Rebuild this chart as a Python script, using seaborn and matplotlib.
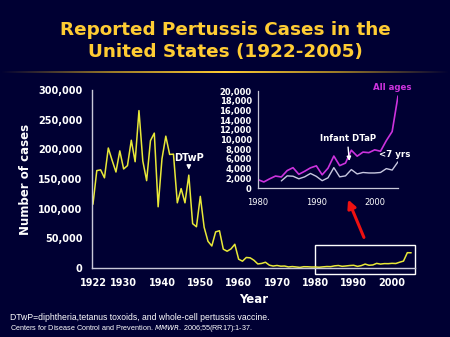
import numpy as np
import pandas as pd
import matplotlib
matplotlib.use("Agg")
import matplotlib.pyplot as plt
import seaborn as sns
from matplotlib.colors import LinearSegmentedColormap
from matplotlib.patches import Rectangle

# ---------------- data ----------------
years = list(range(1922, 2006))
cases = [107473, 164191, 165418, 152003, 202210, 181411, 161799, 197371, 166914, 172559,
         215343, 179135, 265269, 180518, 147237, 214652, 227319, 103188, 183866, 222202,
         191383, 191890, 109873, 133792, 109860, 156517, 74715, 69479, 120718, 68687,
         45030, 37129, 60886, 62786, 31732, 28295, 32148, 40005, 14809, 11468,
         17749, 17135, 13005, 6799, 7717, 9718, 4810, 3285, 4249, 3036,
         3287, 1759, 2402, 1738, 1010, 2177, 2063, 1623, 1730, 1248,
         1895, 2463, 2276, 3589, 4195, 2823, 3450, 4157, 4570, 2719,
         4083, 6586, 4617, 5137, 7796, 6564, 7405, 7288, 7867, 7580,
         9771, 11647, 25827, 25616]

inset_years = list(range(1980, 2005))
all_ages = [1730, 1248, 1895, 2463, 2276, 3589, 4195, 2823, 3450, 4157, 4570, 2719,
            4083, 6586, 4617, 5137, 7796, 6564, 7405, 7288, 7867, 7580, 9771, 11647, 18957]
under7_years = list(range(1984, 2005))
under7 = [1460, 2500, 2430, 1900, 2300, 3000, 2400, 1500, 2100, 4200, 2300, 2500,
          3800, 2900, 3200, 3100, 3100, 3200, 4000, 3700, 5400]

main_xticks = [1922, 1930, 1940, 1950, 1960, 1970, 1980, 1990, 2000]
main_yticks = [0, 50000, 100000, 150000, 200000, 250000, 300000]
inset_yticks = list(range(0, 20001, 2000))
inset_xticks = [1980, 1990, 2000]

title = "Reported Pertussis Cases in the\nUnited States (1922-2005)"
footnote1 = "DTwP=diphtheria,tetanus toxoids, and whole-cell pertussis vaccine."
footnote2 = "Centers for Disease Control and Prevention. $\\it{MMWR}$. 2006;55(RR17):1-37."

# ---------------- style ----------------
BG = "#000033"
GOLD = "#FFCC33"
YEL = "#E8E838"
PURP = "#CC33DD"
LGRAY = "#C8C8E0"
SPINE = "#C8C8D8"

sns.set_style("dark")
plt.rcParams["font.family"] = ["DejaVu Sans"]

W, H = 450, 337
fig = plt.figure(figsize=(4.5, 3.37), dpi=100, facecolor=BG)

def fx(px):
    return px / W

def fy(py):
    return (H - py) / H

# title
fig.text(fx(225), fy(41), title, ha="center", va="center", color=GOLD,
         fontsize=13.2, fontweight="bold", linespacing=1.25)

# gradient rule under title
gax = fig.add_axes([0, fy(73.5), 1, 2.2 / H])
cmap = LinearSegmentedColormap.from_list("g", [BG, "#9a7a28", GOLD, "#9a7a28", BG])
gax.imshow(np.linspace(0, 1, 256)[None, :], aspect="auto", cmap=cmap)
gax.axis("off")

# ---------------- main axes ----------------
ax = fig.add_axes([fx(92), fy(268), fx(415) - fx(92), fy(90) - fy(268)])
ax.set_facecolor(BG)
df = pd.DataFrame({"Year": years, "Cases": cases})
sns.lineplot(data=df, x="Year", y="Cases", ax=ax, color=YEL, linewidth=1.1)
ax.set_xlim(1921.75, 2006)
ax.set_ylim(0, 300000)
ax.grid(False)
for s in ["top", "right"]:
    ax.spines[s].set_visible(False)
for s in ["left", "bottom"]:
    ax.spines[s].set_color(SPINE)
    ax.spines[s].set_linewidth(1.0)
ax.set_xticks(main_xticks)
ax.set_xticklabels([str(v) for v in main_xticks])
ax.set_yticks(main_yticks)
ax.set_yticklabels([f"{v:,}" for v in main_yticks])
ax.tick_params(axis="both", colors=SPINE, labelcolor="white", labelsize=7,
               length=4, width=1, direction="out", pad=3)
for lab in ax.get_xticklabels() + ax.get_yticklabels():
    lab.set_fontweight("bold")
ax.set_xlabel("Year", color="white", fontsize=8.5, fontweight="bold", labelpad=4)
ax.set_ylabel("Number of cases", color="white", fontsize=8.5, fontweight="bold", labelpad=4)

# DTwP annotation
ax.text(1947, 186000, "DTwP", ha="center", va="center", color="white",
        fontsize=7, fontweight="bold")
ax.annotate("", xy=(1947, 161000), xytext=(1947, 177000),
            arrowprops=dict(arrowstyle="-|>", color="white", lw=1, mutation_scale=6))

# white box around 1980-2005
rect = Rectangle((1980, -10000), 26, 48500, fill=False, edgecolor="white",
                 linewidth=1, clip_on=False)
ax.add_patch(rect)

# ---------------- inset ----------------
iax = fig.add_axes([fx(258), fy(188), fx(398) - fx(258), fy(91) - fy(188)])
iax.set_facecolor(BG)
dfa = pd.DataFrame({"Year": inset_years, "Cases": all_ages})
dfu = pd.DataFrame({"Year": under7_years, "Cases": under7})
sns.lineplot(data=dfa, x="Year", y="Cases", ax=iax, color=PURP, linewidth=1.2)
sns.lineplot(data=dfu, x="Year", y="Cases", ax=iax, color=LGRAY, linewidth=1.0)
iax.set_xlim(1980, 2004)
iax.set_ylim(0, 20000)
iax.grid(False)
for s in ["top", "right"]:
    iax.spines[s].set_visible(False)
for s in ["left", "bottom"]:
    iax.spines[s].set_color(SPINE)
    iax.spines[s].set_linewidth(0.9)
iax.set_yticks(inset_yticks)
iax.set_yticklabels([f"{v:,}" for v in inset_yticks])
iax.set_xticks(inset_xticks)
iax.set_xticklabels([str(v) for v in inset_xticks])
iax.set_xticks(inset_years, minor=True)
iax.tick_params(axis="both", which="major", colors=SPINE, labelcolor="white",
                labelsize=6, length=3, width=0.8, direction="out", pad=1.5)
iax.tick_params(axis="x", which="major", pad=4)
iax.tick_params(axis="x", which="minor", colors=SPINE, length=3, width=0.8, direction="out")
for lab in iax.get_yticklabels():
    lab.set_fontweight("bold")
iax.set_xlabel("")
iax.set_ylabel("")

iax.text(2003.0, 20700, "All ages", ha="center", va="center", color=PURP,
         fontsize=6.2, fontweight="bold", clip_on=False)
iax.text(2003.4, 7000, "<7 yrs", ha="center", va="center", color="white",
         fontsize=6.2, fontweight="bold", clip_on=False)
iax.text(1995.4, 10300, "Infant DTaP", ha="center", va="center", color="white",
         fontsize=6.2, fontweight="bold")
iax.annotate("", xy=(1995.7, 5000), xytext=(1995.4, 9000),
             arrowprops=dict(arrowstyle="-|>", color="white", lw=1, mutation_scale=6))

# red arrow from box to inset
fig.add_artist(matplotlib.patches.FancyArrowPatch(
    (fx(365), fy(240)), (fx(347), fy(197)), transform=fig.transFigure,
    arrowstyle="-|>", color="#EE1111", lw=2.2, mutation_scale=12))

# footnotes
fig.text(fx(10), fy(318), footnote1, ha="left", va="center", color="white",
         fontsize=6.2, family="Liberation Sans")
fig.text(fx(10), fy(328), footnote2, ha="left", va="center", color="white",
         fontsize=5.2, family="Liberation Sans")

fig.savefig("out.png", dpi=100, facecolor=BG)
